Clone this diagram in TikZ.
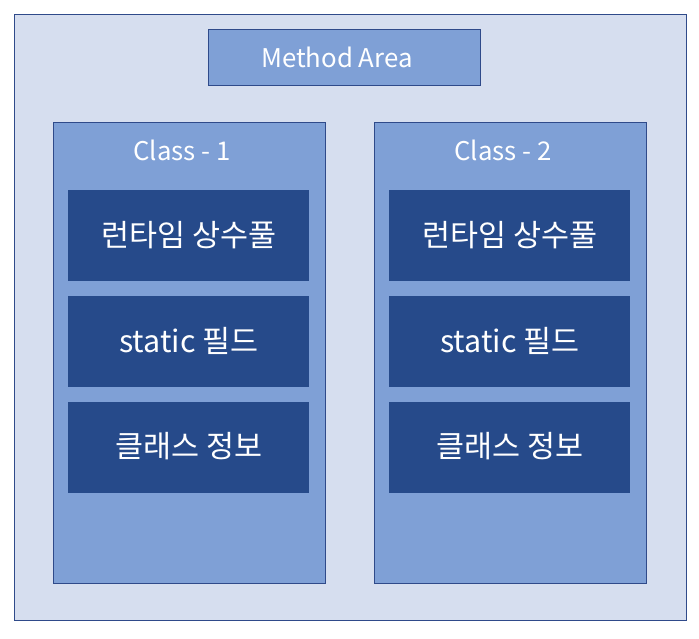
\documentclass[tikz,border=0pt]{standalone}
\usepackage{fontspec}
\setmainfont{Noto Sans CJK KR}
\definecolor{areabg}{HTML}{D6DEEF}
\definecolor{edgeblue}{HTML}{2F4A8A}
\definecolor{midblue}{HTML}{7FA0D6}
\definecolor{deepblue}{HTML}{264A8A}
\begin{document}
\begin{tikzpicture}[x=0.03cm,y=-0.03cm]
  \tikzset{
    area_box/.style={draw=edgeblue,fill=areabg,thick},
    class_box/.style={draw=edgeblue,fill=midblue,thick},
    head_text/.style={text=white,font=\fontsize{22}{26}\selectfont},
    part_text/.style={text=white,font=\fontsize{26}{30}\selectfont},
  }
  \useasboundingbox (0,0) rectangle (699,638);
  \draw[area_box] (14,14) rectangle (686,620);
  \draw[class_box] (208,29) rectangle (480,85);
  \node[head_text] (title) at (337,57) {Method Area};

  % two class blocks, shifted horizontally
  \foreach \n/\x in {1/53,2/374}{
  \begin{scope}[shift={(\x,0)}]
    \draw[class_box] (0,122) rectangle (272,583);
    \node[head_text] (class\n) at (129,150) {Class - \n};
    \fill[deepblue] (15,190) rectangle (256,281);
    \node[part_text] (pool\n) at (136,235) {런타임 상수풀};
    \fill[deepblue] (15,296) rectangle (256,387);
    \node[part_text] (field\n) at (136,341) {static 필드};
    \fill[deepblue] (15,402) rectangle (256,493);
    \node[part_text] (info\n) at (136,446) {클래스 정보};
  \end{scope}
  }
\end{tikzpicture}
\end{document}
